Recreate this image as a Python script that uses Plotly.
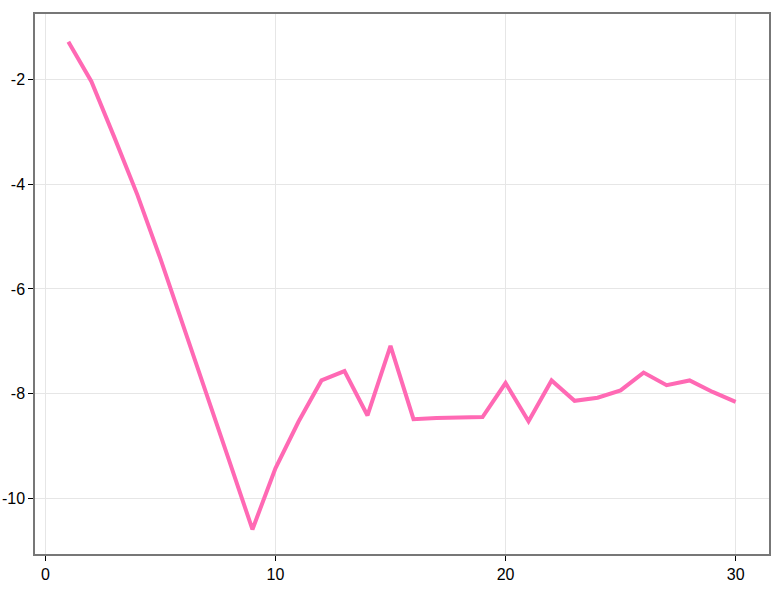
import plotly.graph_objects as go

# values
steps = list(range(1, 31))
values = [
    -1.27, -2.03, -3.10, -4.20, -5.42, -6.70, -8.00, -9.30, -10.60, -9.43,
    -8.54, -7.75, -7.57, -8.42, -7.09, -8.49, -8.47, -8.46, -8.45, -7.80,
    -8.53, -7.75, -8.14, -8.08, -7.94, -7.60, -7.84, -7.75, -7.97, -8.16,
]
x_ticks = [0, 10, 20, 30]
y_ticks = [-10, -8, -6, -4, -2]
y_labels = ["-10", "-8", "-6", "-4", "-2"]  # plain hyphen, as in the reference

fig = go.Figure()
fig.add_trace(go.Scatter(
    x=steps, y=values, mode="lines",
    line=dict(color="#ff69b4", width=4),
    showlegend=False,
))

axis_style = dict(
    showline=True, linecolor="#777777", linewidth=1.5, mirror=True,
    showgrid=True, gridcolor="#e6e6e6", gridwidth=1,
    zeroline=False, automargin=False,
    ticks="outside", ticklen=5, tickcolor="#000000", tickwidth=1,
    tickfont=dict(family="Liberation Sans, Arial, sans-serif", size=16, color="#000000"),
)

fig.update_xaxes(range=[-0.45, 31.45], tickvals=x_ticks, **axis_style)
fig.update_yaxes(range=[-11.07, -0.74], tickvals=y_ticks, ticktext=y_labels, **axis_style)

fig.update_layout(
    width=784, height=600,
    margin=dict(l=35, r=15, t=14, b=46),
    plot_bgcolor="white", paper_bgcolor="white",
)

# drop the browser's default 8px body margin so the figure sits at the page corner
fig.write_html(
    "out.html",
    config={"displayModeBar": False},
    post_script="document.body.style.margin='0';",
)
